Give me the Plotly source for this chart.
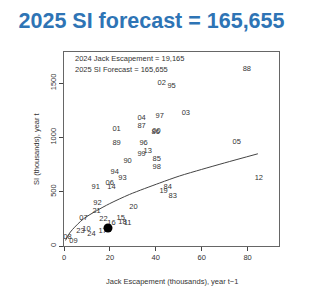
import plotly.graph_objects as go

# Year labels (two-digit) placed at (jack escapement t-1, SI t)
years = ["83", "84", "85", "86", "87", "88", "89", "90", "91", "92", "93", "94", "95", "96",
         "97", "98", "99", "00", "01", "02", "03", "04", "05", "06", "07", "08", "09", "10",
         "11", "12", "13", "14", "15", "16", "17", "18", "19", "20", "21", "22", "23", "24"]
jack = [47.4, 45.2, 40.4, 40.0, 33.8, 79.7, 22.9, 27.7, 13.8, 14.6, 25.5, 22.1, 46.9, 34.7,
        41.7, 40.4, 33.8, 40.3, 22.9, 42.6, 53.1, 33.8, 75.3, 19.9, 8.5, 1.5, 4.1, 9.8,
        27.7, 84.9, 36.5, 20.7, 24.7, 20.7, 16.8, 25.5, 43.4, 30.3, 14.2, 17.2, 7.2, 12.0]
si = [457, 540, 799, 1048, 1103, 1630, 946, 780, 540, 392, 623, 679, 1473, 946,
      1196, 725, 845, 1057, 1076, 1500, 1223, 1177, 956, 577, 254, 78, 42, 152,
      208, 623, 873, 540, 254, 208, 134, 217, 503, 355, 319, 245, 134, 106]

# Fitted curve
curve_x = [0.65, 2.0, 3.7, 8.5, 14.2, 19.9, 28.6, 41.7, 50.4, 60.0, 70.0, 84.5]
curve_y = [51, 105, 152, 250, 325, 390, 475, 580, 645, 705, 765, 849]

# 2024 forecast point
fc_x = [19.165]
fc_y = [165.655]

x_ticks = [0, 20, 40, 60, 80]
y_ticks = [0, 500, 1000, 1500]

FONT = "Liberation Sans, Arial, sans-serif"
TXT = "#333333"

fig = go.Figure()
fig.add_trace(go.Scatter(x=curve_x, y=curve_y, mode="lines",
                         line=dict(color="#444444", width=1, shape="spline", smoothing=0.8),
                         hoverinfo="skip", showlegend=False))
fig.add_trace(go.Scatter(x=jack, y=si, mode="text", text=years,
                         textfont=dict(family=FONT, size=7.5, color=TXT),
                         textposition="middle center", showlegend=False))
fig.add_trace(go.Scatter(x=fc_x, y=fc_y, mode="markers",
                         marker=dict(color="black", size=9), showlegend=False))

axis_common = dict(showline=True, linecolor="#666666", linewidth=1, mirror=True,
                   showgrid=False, zeroline=False, ticks="outside", ticklen=4,
                   tickcolor="#444444", tickfont=dict(family=FONT, size=7.5, color=TXT))

fig.update_layout(
    width=314, height=300,
    margin=dict(l=64, r=35, t=52, b=54),
    paper_bgcolor="white", plot_bgcolor="white",
    xaxis=dict(range=[0, 93.7], tickvals=x_ticks, **axis_common),
    yaxis=dict(range=[0, 1786], tickvals=y_ticks, tickangle=-90, **axis_common),
    title=dict(text="<b>2025 SI forecast = 165,655</b>", xref="container", yref="container",
               x=0.4825, y=0.932, xanchor="center", yanchor="middle",
               font=dict(family=FONT, size=21.5, color="#2E74B5")),
    annotations=[
        dict(text="2024 Jack Escapement = 19,165", xref="paper", yref="paper", x=0, y=1,
             xanchor="left", yanchor="middle", xshift=9, yshift=-6, showarrow=False,
             font=dict(family=FONT, size=7.5, color=TXT)),
        dict(text="2025 SI Forecast = 165,655", xref="paper", yref="paper", x=0, y=1,
             xanchor="left", yanchor="middle", xshift=9, yshift=-17, showarrow=False,
             font=dict(family=FONT, size=7.5, color=TXT)),
        dict(text="Jack Escapement (thousands), year t\u22121", xref="paper", yref="paper",
             x=0.5, y=0, xanchor="center", yanchor="middle", yshift=-35, showarrow=False,
             font=dict(family=FONT, size=7.5, color=TXT)),
        dict(text="SI (thousands), year t", xref="paper", yref="paper", x=0, y=0.5,
             xanchor="center", yanchor="middle", xshift=-28, textangle=-90, showarrow=False,
             font=dict(family=FONT, size=7.5, color=TXT)),
    ],
)

fig.write_html("out.html")
